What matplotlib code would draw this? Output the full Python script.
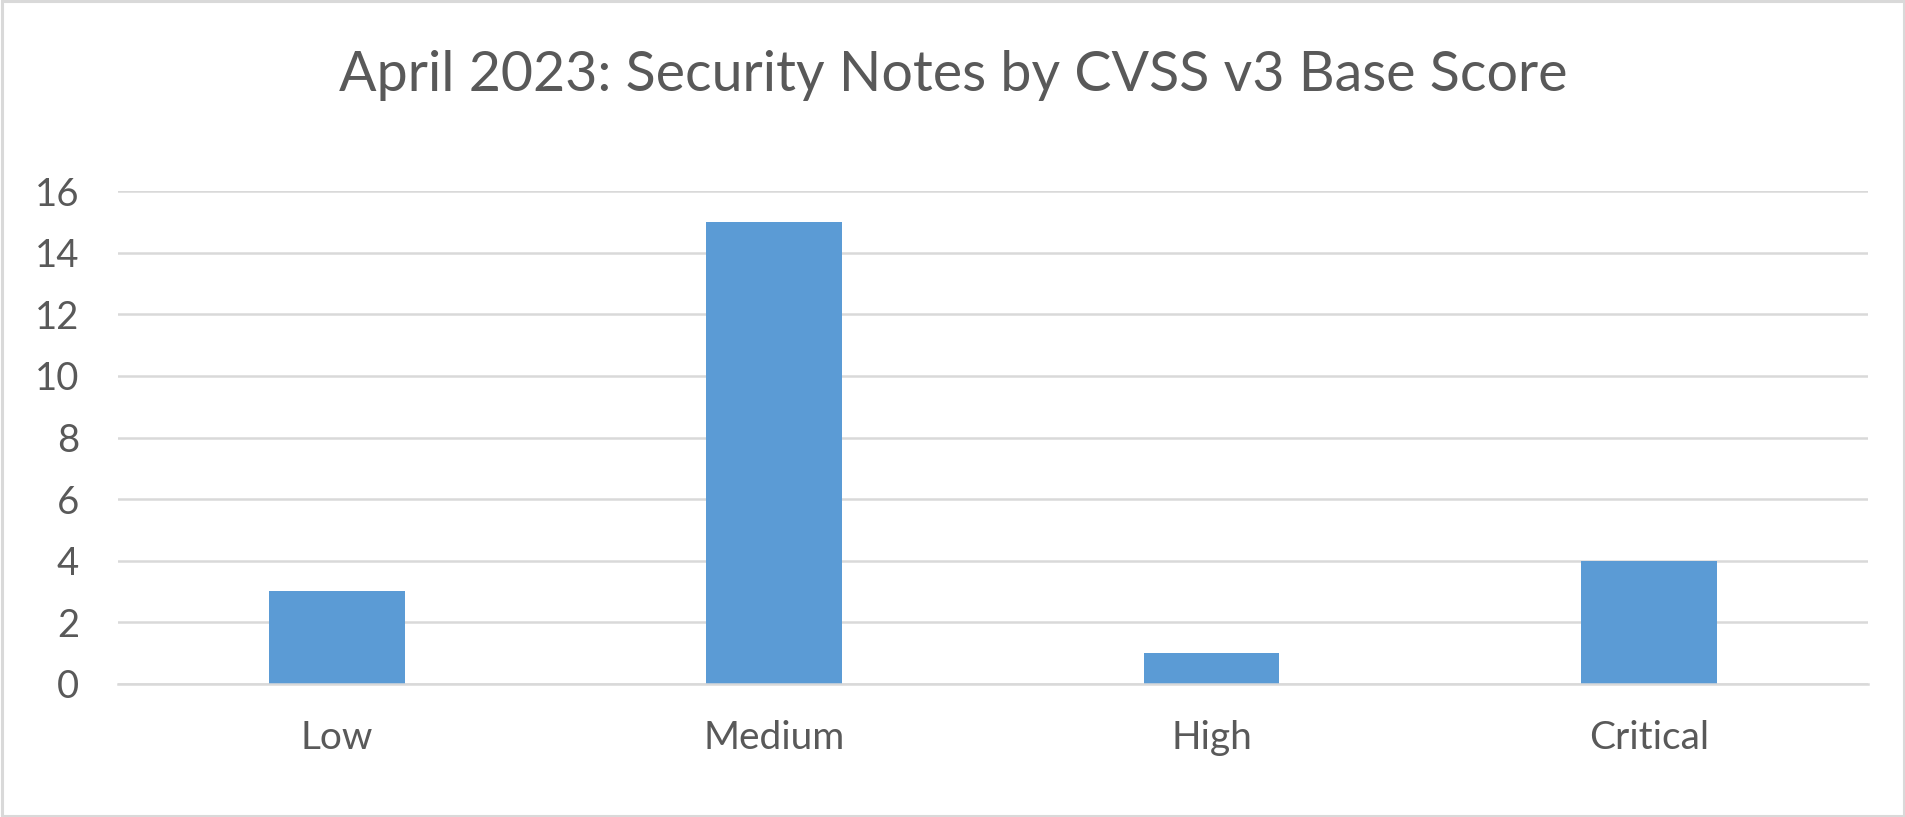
import matplotlib
matplotlib.use("Agg")
import matplotlib.pyplot as plt
from matplotlib.patches import Rectangle

categories = ["Low", "Medium", "High", "Critical"]
values = [3, 15, 1, 4]
yticks = [0, 2, 4, 6, 8, 10, 12, 14, 16]
title = "April 2023: Security Notes by CVSS v3 Base Score"

TEXT = "#595959"
GRID = "#D9D9D9"
BAR = "#5B9BD5"

plt.rcParams['font.family'] = ['Lato', 'DejaVu Sans']

fig = plt.figure(figsize=(19.06, 8.17), dpi=100)
ax = fig.add_axes([0.0619, 0.163, 0.9181, 0.603])

x = list(range(len(categories)))
ax.bar(x, values, width=0.31, color=BAR, zorder=3)
ax.set_xlim(-0.5, len(categories) - 0.5)
ax.set_ylim(0, 16)
ax.set_yticks(yticks)
ax.set_xticks(x)
ax.set_xticklabels(categories)
ax.yaxis.grid(True, color=GRID, linewidth=1.8, zorder=0)
ax.set_axisbelow(True)
for s in ["top", "right", "left"]:
    ax.spines[s].set_visible(False)
ax.spines["bottom"].set_color(GRID)
ax.spines["bottom"].set_linewidth(1.8)
ax.spines["bottom"].set_zorder(4)
ax.tick_params(axis="y", length=0, labelsize=27.5, colors=TEXT, pad=28)
ax.tick_params(axis="x", length=0, labelsize=28, colors=TEXT, pad=26)

fig.text(0.5, 0.908, title, ha="center", va="center", fontsize=40, color=TEXT)

fig.patches.append(Rectangle((0.0008, 0.0018), 0.9984, 0.9964, transform=fig.transFigure,
                             fill=False, edgecolor=GRID, linewidth=2.2))

fig.savefig("out.png", dpi=100)
